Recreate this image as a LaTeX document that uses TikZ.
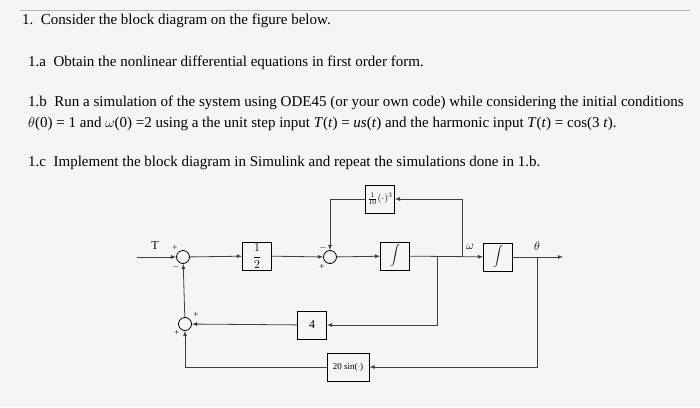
\documentclass[tikz,border=0pt]{standalone}
\usepackage{fontspec}
\setmainfont{Liberation Serif}
\begin{document}
\begin{tikzpicture}[x=1pt,y=-1pt,
  blk/.style={draw,thick,minimum width=29pt,minimum height=28pt,inner sep=0pt,font=\large},
  sumj/.style={draw,thick,circle,minimum size=13pt,inner sep=0pt},
  ln/.style={thick,draw=black!75},
  arr/.style={ln,-latex},
  txt/.style={anchor=west,inner sep=0pt,font=\fontsize{15}{17}\selectfont},
  sg/.style={font=\small,inner sep=0pt}]
\fill[gray!8] (0,0) rectangle (700,407);
\useasboundingbox (0,0) rectangle (700,407);
\draw[gray!60,thick] (20,10) -- (690,10);
\node[txt] (t1) at (22,21) {1.\ \ Consider the block diagram on the figure below.};
\node[txt] (t2) at (28,63) {1.a\ \ Obtain the nonlinear differential equations in first order form.};
\node[txt] (t3) at (28,103) {1.b\ \ Run a simulation of the system using ODE45 (or your own code) while considering the initial conditions};
\node[txt] (t4) at (28,124) {$\theta$(0) = 1 and $\omega$(0) =2 using a the unit step input \textit{T}(\textit{t}) = \textit{us}(\textit{t}) and the harmonic input \textit{T}(\textit{t}) = cos(3 \textit{t}).};
\node[txt] (t5) at (28,163) {1.c\ \ Implement the block diagram in Simulink and repeat the simulations done in 1.b.};

\coordinate (in) at (137,257);
\node[sumj] (s1) at (183,257) {};
\node[blk] (half) at (257,256) {$\displaystyle\frac{1}{2}$};
\node[sumj] (s2) at (330,257) {};
\node[blk] (int1) at (395,256) {$\displaystyle\int$};
\coordinate (b1) at (437,257);
\coordinate (b2) at (462,257);
\node[blk] (int2) at (498,257) {$\displaystyle\int$};
\coordinate (b3) at (537,257);
\coordinate (out) at (563,257);
\node[blk,font=\normalsize] (cube) at (380,199) {$\frac{1}{10}(\cdot)^3$};
\node[sumj] (s3) at (185,324) {};
\node[blk] (four) at (312,325) {4};
\node[blk,minimum width=42pt,font=\small] (sinb) at (348,367) {20 sin($\cdot$)};

\node[font=\large] (lT) at (155,246) {T};
\node[font=\large] (lw) at (470,247) {$\omega$};
\node[font=\large] (lth) at (537,246) {$\theta$};

\draw[arr] (in) -- (s1);
\draw[arr] (s1) -- (half);
\draw[arr] (half) -- (s2);
\draw[arr] (s2) -- (int1);
\draw[arr] (int1) -- (int2);
\draw[arr] (int2) -- (out);
\draw[arr] (b2) |- (cube.east);
\draw[arr] (cube.west) -| (s2.north);
\draw[arr] (b1) |- (four.east);
\draw[arr] (four) -- (s3);
\draw[arr] (b3) |- (sinb.east);
\draw[arr] (sinb.west) -| (s3.south);
\draw[arr] (s3) -- (s1);

\node[sg] (p1) at (175,248) {+};
\node[sg] (m1) at (176,267) {$-$};
\node[sg] (m2) at (323,248) {$-$};
\node[sg] (p2) at (322,267) {+};
\node[sg] (p3) at (196,315) {+};
\node[sg] (p4) at (177,333) {+};
\end{tikzpicture}
\end{document}
